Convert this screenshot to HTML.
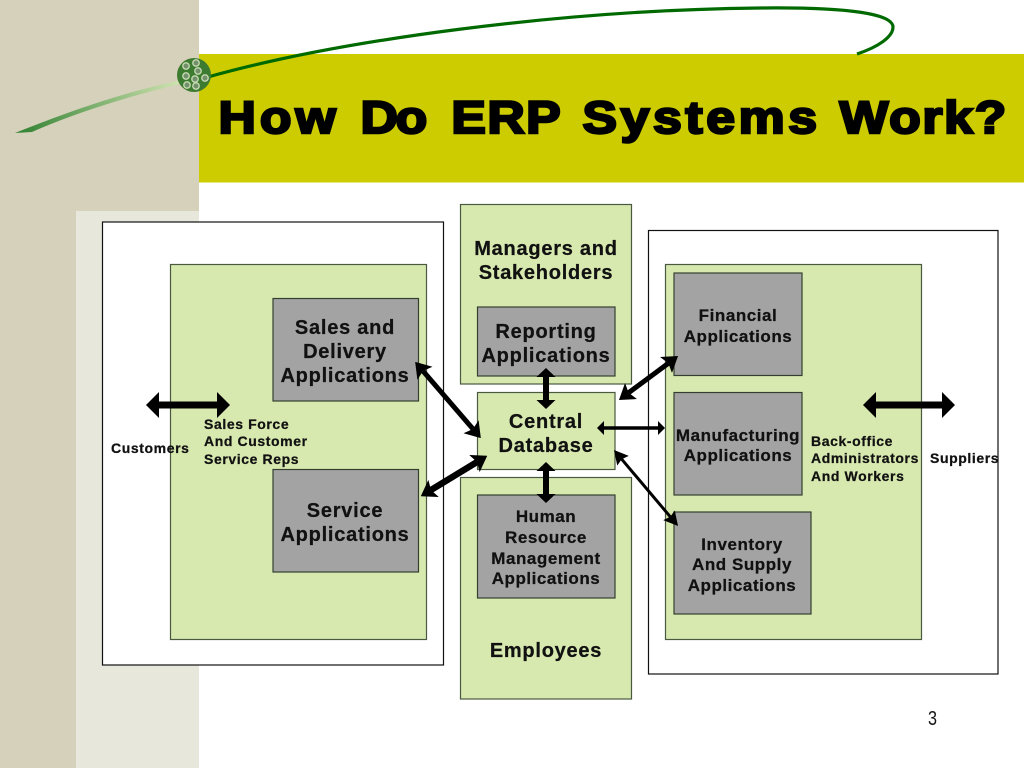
<!DOCTYPE html>
<html><head><meta charset="utf-8"><title>How Do ERP Systems Work?</title>
<style>
html,body{margin:0;padding:0;background:#fff;width:1024px;height:768px;overflow:hidden}
svg{display:block}
text{font-family:"Liberation Sans",Arial,sans-serif;font-weight:bold;fill:#111;stroke:#111;stroke-width:.25px}
.l{font-size:20px;letter-spacing:.75px;text-anchor:middle}
.m{font-size:17px;letter-spacing:.55px;text-anchor:middle}
.s{font-size:14px;letter-spacing:.6px}
.t{font-size:45px;fill:#000;stroke:#000;stroke-width:2.400px}
.g{fill:#d8e9b0;stroke:#4a5a40;stroke-width:1.2}
.b{fill:#a3a3a3;stroke:#33402f;stroke-width:1.2}
.w{fill:#fff;stroke:#111;stroke-width:1.2}
.a{stroke:#000;fill:none}
</style></head><body>
<svg width="1024" height="768" viewBox="0 0 1024 768" xmlns="http://www.w3.org/2000/svg">
<defs>
<linearGradient id="t" x1="15" y1="133" x2="180" y2="85" gradientUnits="userSpaceOnUse"><stop offset="0" stop-color="#2f8030"/><stop offset="1" stop-color="#cfe3b0"/></linearGradient>
<marker id="hl" viewBox="0 0 13 26" refX="1" refY="13" markerWidth="13" markerHeight="26" orient="auto-start-reverse" markerUnits="userSpaceOnUse"><path d="M0 0L13 13L0 26Z"/></marker>
<marker id="hd" viewBox="0 0 15 20" refX="3" refY="10" markerWidth="15" markerHeight="20" orient="auto-start-reverse" markerUnits="userSpaceOnUse"><path d="M0 0L15 10L0 20L3 10Z"/></marker>
<marker id="hv" viewBox="0 0 9 19" refX="1" refY="9.5" markerWidth="9" markerHeight="19" orient="auto-start-reverse" markerUnits="userSpaceOnUse"><path d="M0 0L9 9.5L0 19Z"/></marker>
<marker id="hh" viewBox="0 0 7 14" refX="1" refY="7" markerWidth="7" markerHeight="14" orient="auto-start-reverse" markerUnits="userSpaceOnUse"><path d="M0 0L7 7L0 14Z"/></marker>
<marker id="ht" viewBox="0 0 14 15" refX="2" refY="7.5" markerWidth="14" markerHeight="15" orient="auto-start-reverse" markerUnits="userSpaceOnUse"><path d="M0 0L14 7.500L0 15L2 7.500Z"/></marker>
</defs>

<rect x="0" y="0" width="199" height="768" fill="#d5d1bb"/>
<rect x="76" y="211" width="123" height="557" fill="#e8e7dc"/>
<rect x="199" y="54" width="825" height="128.500" fill="#cccc00"/>

<path d="M15 133L32 132C70 115 125 97 180 84L178 81C120 93 65 113 15 133Z" fill="url(#t)"/>
<path d="M208 77C340 40 560 10 760 8C850 7 893 14 893 27C893 37 878 47 857 54" fill="none" stroke="#006a00" stroke-width="3.200"/>
<circle cx="194" cy="75" r="17" fill="#3d7c30"/>
<g fill="#71906a" stroke="#c4d8b2" stroke-width="1.400">
<circle cx="186" cy="66" r="3.200"/><circle cx="196" cy="63" r="3.200"/><circle cx="198" cy="71" r="3.200"/><circle cx="186" cy="76" r="3.200"/><circle cx="195" cy="79" r="3.200"/><circle cx="205" cy="78" r="3.200"/><circle cx="187" cy="85" r="3.200"/><circle cx="196" cy="86" r="3.200"/>
</g>

<g transform="scale(1.15 1)">
<text class="t" x="190" y="133" textLength="102" lengthAdjust="spacing">How</text>
<text class="t" x="313.500" y="133" textLength="58" lengthAdjust="spacing">Do</text>
<text class="t" x="392.500" y="133" textLength="95" lengthAdjust="spacing">ERP</text>
<text class="t" x="506.500" y="133" textLength="204" lengthAdjust="spacing">Systems</text>
<text class="t" x="730" y="133" textLength="145" lengthAdjust="spacing">Work?</text>
</g>

<rect class="w" x="102.500" y="222" width="341" height="443"/>
<rect class="g" x="170.500" y="264.500" width="256" height="375"/>
<rect class="b" x="273" y="298.500" width="145.500" height="102.500"/>
<rect class="b" x="273" y="469.500" width="145.500" height="102.500"/>

<rect class="g" x="460.500" y="204.500" width="171" height="179.500"/>
<rect class="b" x="477.500" y="307" width="137.500" height="69"/>
<rect class="g" x="477.500" y="392.500" width="137.500" height="77"/>
<rect class="g" x="460.500" y="477.500" width="171" height="221.500"/>
<rect class="b" x="477.500" y="495" width="137.500" height="103"/>

<rect class="w" x="648.500" y="230.500" width="349.500" height="443.500"/>
<rect class="g" x="665.500" y="264.500" width="256" height="375"/>
<rect class="b" x="674" y="273" width="128" height="102.500"/>
<rect class="b" x="674" y="392.500" width="128" height="102.500"/>
<rect class="b" x="674" y="512" width="137" height="102"/>

<line class="a" x1="158" y1="405" x2="218" y2="405" stroke-width="7" marker-start="url(#hl)" marker-end="url(#hl)"/>
<line class="a" x1="875" y1="405" x2="943" y2="405" stroke-width="7" marker-start="url(#hl)" marker-end="url(#hl)"/>
<line class="a" x1="423" y1="371" x2="473" y2="429" stroke-width="5" marker-start="url(#hd)" marker-end="url(#hd)"/>
<line class="a" x1="431" y1="490" x2="477" y2="462" stroke-width="6.500" marker-start="url(#hd)" marker-end="url(#hd)"/>
<line class="a" x1="546" y1="376" x2="546" y2="401" stroke-width="6" marker-start="url(#hv)" marker-end="url(#hv)"/>
<line class="a" x1="546" y1="470" x2="546" y2="495" stroke-width="6" marker-start="url(#hv)" marker-end="url(#hv)"/>
<line class="a" x1="603" y1="428" x2="659" y2="428" stroke-width="3.500" marker-start="url(#hh)" marker-end="url(#hh)"/>
<line class="a" x1="628.600" y1="392.800" x2="668.400" y2="363.200" stroke-width="5" marker-start="url(#hd)" marker-end="url(#hd)"/>
<line class="a" x1="621.700" y1="459.200" x2="670.300" y2="516.800" stroke-width="3" marker-start="url(#ht)" marker-end="url(#ht)"/>

<text class="l" x="345" y="334">Sales and</text>
<text class="l" x="345" y="358">Delivery</text>
<text class="l" x="345" y="382">Applications</text>
<text class="l" x="345" y="517">Service</text>
<text class="l" x="345" y="541">Applications</text>
<text class="l" x="546" y="255">Managers and</text>
<text class="l" x="546" y="279">Stakeholders</text>
<text class="l" x="546" y="338">Reporting</text>
<text class="l" x="546" y="362">Applications</text>
<text class="l" x="546" y="428">Central</text>
<text class="l" x="546" y="452">Database</text>
<text class="l" x="546" y="657">Employees</text>

<text class="m" x="546" y="522">Human</text>
<text class="m" x="546" y="543">Resource</text>
<text class="m" x="546" y="564">Management</text>
<text class="m" x="546" y="584">Applications</text>
<text class="m" x="738" y="321">Financial</text>
<text class="m" x="738" y="342">Applications</text>
<text class="m" x="738" y="441">Manufacturing</text>
<text class="m" x="738" y="461">Applications</text>
<text class="m" x="742" y="550">Inventory</text>
<text class="m" x="742" y="570">And Supply</text>
<text class="m" x="742" y="591">Applications</text>

<text class="s" x="204" y="429">Sales Force</text>
<text class="s" x="204" y="446">And Customer</text>
<text class="s" x="204" y="464">Service Reps</text>
<text class="s" x="111" y="453">Customers</text>
<text class="s" x="811" y="446">Back-office</text>
<text class="s" x="811" y="463">Administrators</text>
<text class="s" x="811" y="481">And Workers</text>
<text class="s" x="930" y="463">Suppliers</text>

<text x="928" y="725" font-size="20" textLength="9" lengthAdjust="spacingAndGlyphs" style="font-weight:normal;stroke:none;letter-spacing:0">3</text>
</svg>
</body></html>
